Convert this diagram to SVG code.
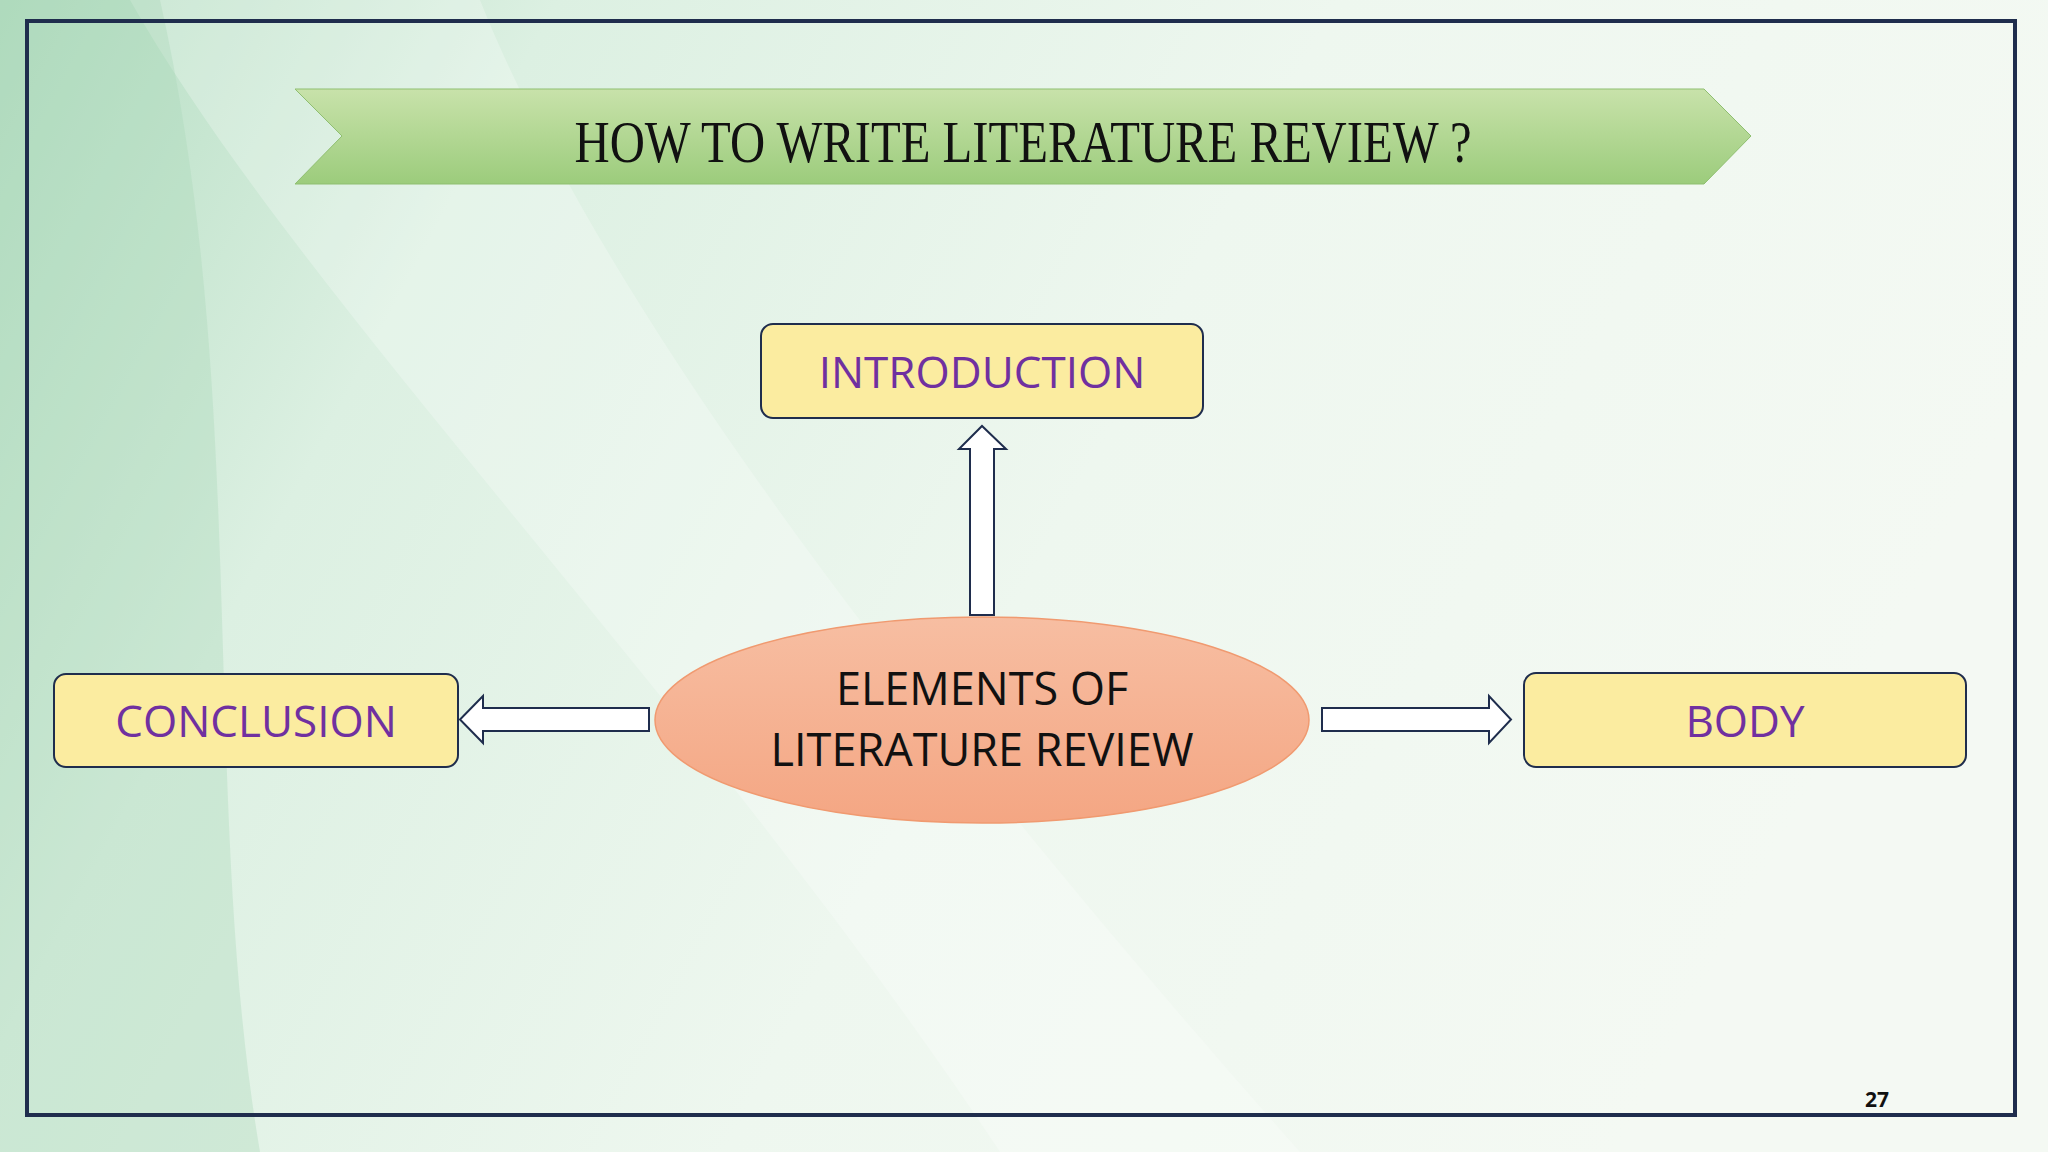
<svg xmlns="http://www.w3.org/2000/svg" width="2048" height="1152" viewBox="0 0 2048 1152">
<defs>
<linearGradient id="bg" x1="0" y1="0" x2="1" y2="0.3">
<stop offset="0" stop-color="#b2dcc0"/><stop offset="0.25" stop-color="#dcf0e2"/><stop offset="0.6" stop-color="#eef7ef"/><stop offset="1" stop-color="#f4f9f3"/>
</linearGradient>
<linearGradient id="ban" x1="0" y1="0" x2="0" y2="1"><stop offset="0" stop-color="#c8e2aa"/><stop offset="1" stop-color="#9ccc7c"/></linearGradient>
<linearGradient id="ell" x1="0" y1="0" x2="0" y2="1"><stop offset="0" stop-color="#f7bea2"/><stop offset="1" stop-color="#f4a683"/></linearGradient>
<style>
.box{fill:#fbeca0;stroke:#1f2d4d;stroke-width:2}
.lbl{font-family:"Open Sans","Liberation Sans",sans-serif;font-size:44px;fill:#7030a0;text-anchor:middle}
.arr{fill:#ffffff;stroke:#1f2d4d;stroke-width:2;stroke-linejoin:miter}
</style>
</defs>
<rect width="2048" height="1152" fill="url(#bg)"/>
<path d="M130,0 C300,300 700,700 1000,1152 L1300,1152 C900,700 600,300 480,0 Z" fill="#ffffff" opacity="0.25"/>
<path d="M0,0 L160,0 C250,400 200,800 260,1152 L0,1152 Z" fill="#a8d8b8" opacity="0.35"/>
<rect x="27" y="21" width="1988" height="1094" fill="none" stroke="#1f2d4d" stroke-width="4"/>
<g id="title">
<polygon points="295,89 1704,89 1751,136 1704,184 295,184 342,136" fill="url(#ban)" stroke="#8fbf70" stroke-width="1"/>
<text x="1023" y="162" font-family="Liberation Serif,serif" font-size="60" fill="#111" text-anchor="middle" textLength="897" lengthAdjust="spacingAndGlyphs">HOW TO WRITE LITERATURE REVIEW ?</text>
</g>
<g id="connectors">
<polygon class="arr" points="970,615 970,449 959,449 982,426 1006,449 994,449 994,615"/>
<polygon class="arr" points="649,708 483,708 483,696 460,719.5 483,743 483,731 649,731"/>
<polygon class="arr" points="1322,708 1489,708 1489,696 1511,719.5 1489,743 1489,731 1322,731"/>
</g>
<g id="center">
<ellipse cx="982" cy="720" rx="327" ry="103" fill="url(#ell)" stroke="#f09a70" stroke-width="1.5"/>
<text x="982" y="705" font-family="Open Sans,Liberation Sans,sans-serif" font-size="45" fill="#111" text-anchor="middle">ELEMENTS OF</text>
<text x="982" y="766" font-family="Open Sans,Liberation Sans,sans-serif" font-size="45" fill="#111" text-anchor="middle">LITERATURE REVIEW</text>
</g>
<g id="introduction"><rect class="box" x="761" y="324" width="442" height="94" rx="12"/><text class="lbl" x="982" y="388">INTRODUCTION</text></g>
<g id="conclusion"><rect class="box" x="54" y="674" width="404" height="93" rx="12"/><text class="lbl" x="256" y="737">CONCLUSION</text></g>
<g id="body"><rect class="box" x="1524" y="673" width="442" height="94" rx="12"/><text class="lbl" x="1745" y="737">BODY</text></g>
<text x="1877" y="1107" font-family="Open Sans,Liberation Sans,sans-serif" font-size="21" font-weight="bold" fill="#111" text-anchor="middle">27</text>
</svg>
